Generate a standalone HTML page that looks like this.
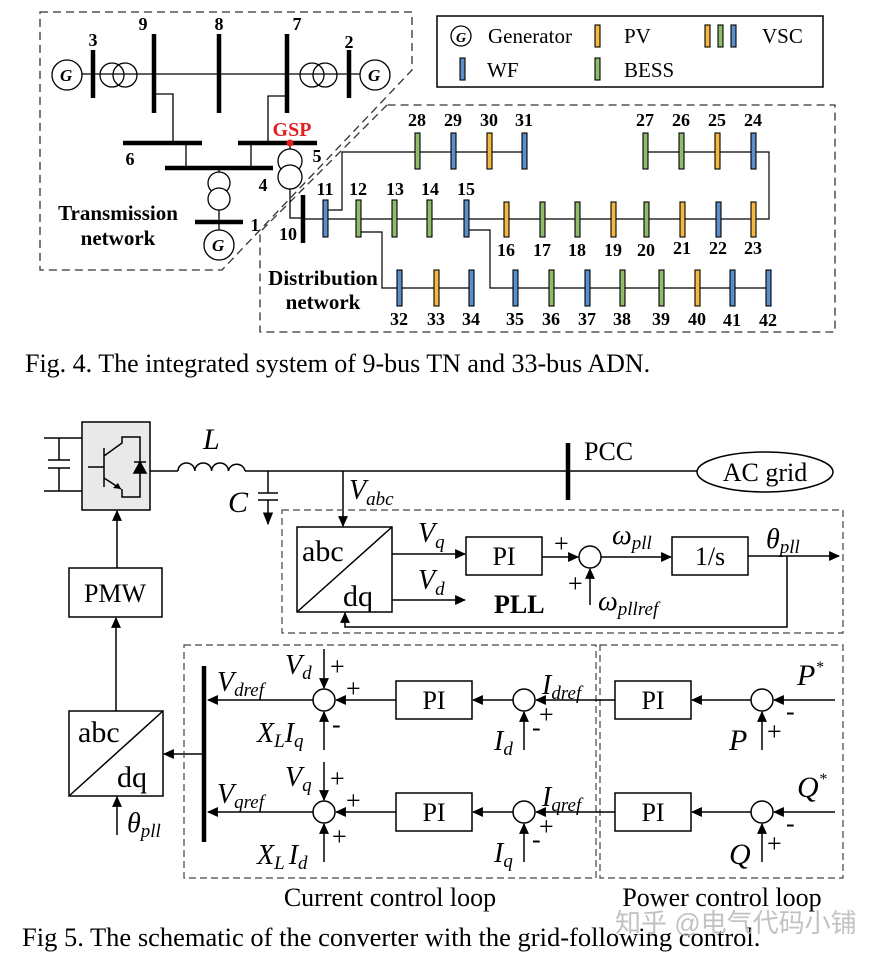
<!DOCTYPE html>
<html><head><meta charset="utf-8"><style>
html,body{margin:0;padding:0;background:#fff;}
svg{display:block;}
text{font-family:"Liberation Serif",serif;fill:#000;}
.b{font-weight:bold;}
.i{font-style:italic;}
</style></head><body>
<svg width="894" height="960" viewBox="0 0 894 960" xmlns="http://www.w3.org/2000/svg">
<defs>
<marker id="a" viewBox="0 0 10 10" refX="9" refY="5" markerWidth="11" markerHeight="11" orient="auto-start-reverse" markerUnits="userSpaceOnUse"><path d="M0,0.5L10,5L0,9.5z" fill="#000"/></marker>
<marker id="a2" viewBox="0 0 10 10" refX="9" refY="5" markerWidth="13" markerHeight="13" orient="auto" markerUnits="userSpaceOnUse"><path d="M0,1L10,5L0,9z" fill="#000"/></marker>
</defs>
<g fill="none" stroke="#000" stroke-width="1.3">
<path d="M40,12H412V70L222,270H40Z" stroke="#333" stroke-dasharray="8,5" stroke-width="1.3"/>
<path d="M387,105L260,232V332H835V105Z" stroke="#333" stroke-dasharray="8,5" stroke-width="1.3"/>
<rect x="437" y="16" width="386" height="71" stroke-width="1.5"/>
<circle cx="461" cy="36" r="10"/>
<path d="M82,74H360"/>
<circle cx="67" cy="75" r="15"/><circle cx="375" cy="75" r="15"/>
<circle cx="112" cy="75" r="12"/><circle cx="125" cy="75" r="12"/>
<circle cx="312" cy="75" r="12"/><circle cx="325" cy="75" r="12"/>
<path d="M154,94H173V143M287,96H268V143M186,143V168M251,143V168M219,168V222V230M290,143V218H303"/>
<circle cx="219" cy="183" r="11" fill="#fff"/><circle cx="219" cy="199" r="11" fill="#fff"/>
<circle cx="290" cy="161" r="12" fill="#fff"/><circle cx="290" cy="177" r="12" fill="#fff"/>
<circle cx="219" cy="245" r="15" fill="#fff"/>
</g>
<g stroke="#000" stroke-width="4.5">
<path d="M93,50V98M154,34V113M219,34V113M287,34V113M349,50V98M123,143H202M238,143H317M165,168H273M195,222H243M303,195V243"/>
</g>
<circle cx="290" cy="143" r="3.5" fill="#e02020"/>
<g class="b" font-size="18">
<text x="93" y="46" text-anchor="middle" class="b">3</text>
<text x="143" y="30" text-anchor="middle" class="b">9</text>
<text x="219" y="30" text-anchor="middle" class="b">8</text>
<text x="297" y="30" text-anchor="middle" class="b">7</text>
<text x="349" y="48" text-anchor="middle" class="b">2</text>
<text x="130" y="165" text-anchor="middle" class="b">6</text>
<text x="317" y="162" text-anchor="middle" class="b">5</text>
<text x="263" y="191" text-anchor="middle" class="b">4</text>
<text x="255" y="231" text-anchor="middle" class="b">1</text>
<text x="288" y="240" text-anchor="middle" class="b">10</text>
<text x="292" y="136" text-anchor="middle" class="b" style="fill:#e02020" font-size="20">GSP</text>
<text x="118" y="220" text-anchor="middle" class="b" font-size="21">Transmission</text>
<text x="118" y="245" text-anchor="middle" class="b" font-size="21">network</text>
<text x="323" y="285" text-anchor="middle" class="b" font-size="21">Distribution</text>
<text x="323" y="309" text-anchor="middle" class="b" font-size="21">network</text>
</g>
<g font-size="18"><text x="456" y="42" class="b i" font-size="14">G</text><text x="60" y="81" class="b i" font-size="17">G</text><text x="368" y="81" class="b i" font-size="17">G</text><text x="212" y="251" class="b i" font-size="17">G</text></g>
<g fill="none" stroke="#000" stroke-width="1.2">
<path d="M303,219H769V152H645M328,210H342V152H524M358,232H382V288H471M466,230H490V288H768"/>
</g>
<g stroke="#000" stroke-width="1.1">
<rect x="323" y="200" width="5" height="37" fill="#5b8fc9"/>
<rect x="356" y="200" width="5" height="37" fill="#8fbc6a"/>
<rect x="392" y="200" width="5" height="37" fill="#8fbc6a"/>
<rect x="427" y="200" width="5" height="37" fill="#8fbc6a"/>
<rect x="464" y="200" width="5" height="37" fill="#5b8fc9"/>
<rect x="504" y="202" width="5" height="35" fill="#f5b941"/>
<rect x="540" y="202" width="5" height="35" fill="#8fbc6a"/>
<rect x="575" y="202" width="5" height="35" fill="#8fbc6a"/>
<rect x="611" y="202" width="5" height="35" fill="#f5b941"/>
<rect x="644" y="202" width="5" height="35" fill="#8fbc6a"/>
<rect x="680" y="202" width="5" height="35" fill="#f5b941"/>
<rect x="716" y="202" width="5" height="35" fill="#5b8fc9"/>
<rect x="751" y="202" width="5" height="35" fill="#f5b941"/>
<rect x="415" y="133" width="5" height="36" fill="#8fbc6a"/>
<rect x="451" y="133" width="5" height="36" fill="#5b8fc9"/>
<rect x="487" y="133" width="5" height="36" fill="#f5b941"/>
<rect x="522" y="133" width="5" height="36" fill="#5b8fc9"/>
<rect x="643" y="133" width="5" height="36" fill="#8fbc6a"/>
<rect x="679" y="133" width="5" height="36" fill="#8fbc6a"/>
<rect x="715" y="133" width="5" height="36" fill="#f5b941"/>
<rect x="751" y="133" width="5" height="36" fill="#5b8fc9"/>
<rect x="397" y="270" width="5" height="36" fill="#5b8fc9"/>
<rect x="434" y="270" width="5" height="36" fill="#f5b941"/>
<rect x="469" y="270" width="5" height="36" fill="#5b8fc9"/>
<rect x="513" y="270" width="5" height="36" fill="#5b8fc9"/>
<rect x="549" y="270" width="5" height="36" fill="#8fbc6a"/>
<rect x="585" y="270" width="5" height="36" fill="#5b8fc9"/>
<rect x="620" y="270" width="5" height="36" fill="#8fbc6a"/>
<rect x="659" y="270" width="5" height="36" fill="#8fbc6a"/>
<rect x="695" y="270" width="5" height="36" fill="#f5b941"/>
<rect x="730" y="270" width="5" height="36" fill="#5b8fc9"/>
<rect x="766" y="270" width="5" height="36" fill="#5b8fc9"/>
<rect x="595" y="25" width="5" height="22" fill="#f5b941"/>
<rect x="705" y="25" width="5" height="22" fill="#f5b941"/>
<rect x="718" y="25" width="5" height="22" fill="#8fbc6a"/>
<rect x="731" y="25" width="5" height="22" fill="#5b8fc9"/>
<rect x="460" y="58" width="5" height="22" fill="#5b8fc9"/>
<rect x="595" y="58" width="5" height="22" fill="#8fbc6a"/>
</g>
<g font-size="21">
<text x="488" y="43">Generator</text><text x="624" y="43">PV</text><text x="762" y="43">VSC</text>
<text x="487" y="77">WF</text><text x="624" y="77">BESS</text>
</g>
<g class="b" font-size="18" text-anchor="middle">
<text x="325" y="195">11</text><text x="358" y="195">12</text><text x="395" y="195">13</text><text x="430" y="195">14</text><text x="466" y="195">15</text>
<text x="506" y="256">16</text><text x="542" y="256">17</text><text x="577" y="256">18</text><text x="613" y="256">19</text><text x="646" y="256">20</text><text x="682" y="254">21</text><text x="718" y="254">22</text><text x="753" y="254">23</text>
<text x="417" y="126">28</text><text x="453" y="126">29</text><text x="489" y="126">30</text><text x="524" y="126">31</text><text x="645" y="126">27</text><text x="681" y="126">26</text><text x="717" y="126">25</text><text x="753" y="126">24</text>
<text x="399" y="325">32</text><text x="436" y="325">33</text><text x="471" y="325">34</text><text x="515" y="325">35</text><text x="551" y="325">36</text><text x="587" y="325">37</text><text x="622" y="325">38</text><text x="661" y="325">39</text><text x="697" y="325">40</text><text x="732" y="326">41</text><text x="768" y="326">42</text>
</g>
<text x="25" y="372" font-size="26">Fig. 4. The integrated system of 9-bus TN and 33-bus ADN.</text>

<g fill="none" stroke="#000" stroke-width="1.5">
<path d="M44,438H82M44,491H82M59,438V460M59,468V491M48,460H70M48,468H70"/>
<rect x="82" y="422" width="68" height="88" fill="#e9e9e9"/>
<path d="M104,448V487M88,467H104M104,456L122,443V437H140V497H122V489M104,478L121,489"/>
<path d="M150,471H178M245,471H568M568,471H697"/>
<path d="M178,471a8.4,8 0 0 1 16.8,0a8.4,8 0 0 1 16.8,0a8.4,8 0 0 1 16.8,0a8.4,8 0 0 1 16.6,0"/>
<path d="M268,471V493M258,493H278M258,500H278M268,500V524" marker-end="url(#a2)"/>
<path d="M343,471V526" marker-end="url(#a)"/>
<ellipse cx="765" cy="472" rx="68" ry="20"/>
<path d="M282,510H843V633H282Z" stroke="#444" stroke-dasharray="7,4" stroke-width="1.2"/>
<rect x="297" y="527" width="95" height="85"/>
<path d="M297,612L392,527"/>
<path d="M392,554H465" marker-end="url(#a)"/>
<rect x="466" y="537" width="76" height="38"/>
<path d="M542,557H578" marker-end="url(#a)"/>
<circle cx="590" cy="557" r="11"/>
<path d="M601,557H671" marker-end="url(#a)"/>
<rect x="672" y="537" width="76" height="38"/>
<path d="M748,556H839" marker-end="url(#a)"/>
<path d="M590,605V569" marker-end="url(#a)"/>
<path d="M392,600H465" marker-end="url(#a)"/>
<path d="M787,556V627H345V613" marker-end="url(#a)"/>
<path d="M117,568V511" marker-end="url(#a)"/>
<rect x="69" y="568" width="93" height="49"/>
<path d="M116,711V618" marker-end="url(#a)"/>
<rect x="69" y="711" width="94" height="85"/>
<path d="M69,796L163,711"/>
<path d="M205,754H164" marker-end="url(#a)"/>
<path d="M117,835V797" marker-end="url(#a)"/>
<path d="M184,645H596V878H184Z" stroke="#444" stroke-dasharray="7,4" stroke-width="1.2"/>
<path d="M600,645H843V878H600Z" stroke="#444" stroke-dasharray="7,4" stroke-width="1.2"/>
<path d="M313,700H208" marker-end="url(#a)"/>
<circle cx="324" cy="700" r="11"/>
<path d="M396,700H336" marker-end="url(#a)"/>
<rect x="396" y="681" width="76" height="38"/>
<path d="M513,700H473" marker-end="url(#a)"/>
<circle cx="524" cy="700" r="11"/>
<path d="M615,700H536" marker-end="url(#a)"/>
<rect x="615" y="681" width="76" height="38"/>
<path d="M751,700H692" marker-end="url(#a)"/>
<circle cx="762" cy="700" r="11"/>
<path d="M835,700H774" marker-end="url(#a)"/>
<path d="M324,649V688" marker-end="url(#a)"/>
<path d="M324,750V712" marker-end="url(#a)"/>
<path d="M524,750V712" marker-end="url(#a)"/>
<path d="M762,750V712" marker-end="url(#a)"/>
<path d="M313,812H208" marker-end="url(#a)"/>
<circle cx="324" cy="812" r="11"/>
<path d="M396,812H336" marker-end="url(#a)"/>
<rect x="396" y="793" width="76" height="38"/>
<path d="M513,812H473" marker-end="url(#a)"/>
<circle cx="524" cy="812" r="11"/>
<path d="M615,812H536" marker-end="url(#a)"/>
<rect x="615" y="793" width="76" height="38"/>
<path d="M751,812H692" marker-end="url(#a)"/>
<circle cx="762" cy="812" r="11"/>
<path d="M835,812H774" marker-end="url(#a)"/>
<path d="M324,762V800" marker-end="url(#a)"/>
<path d="M324,862V824" marker-end="url(#a)"/>
<path d="M524,862V824" marker-end="url(#a)"/>
<path d="M762,862V824" marker-end="url(#a)"/>
</g>
<path d="M140,462L134,473H146Z M134,462H146" fill="#000" stroke="#000" stroke-width="1.5"/>
<path d="M121,489L113,488L118,483Z" fill="#000"/>
<g stroke="#000" stroke-width="4.5"><path d="M568,443V500M204,666V842"/></g>
<g font-size="26">
<text x="203" y="449" class="i" font-size="30">L</text>
<text x="228" y="512" class="i" font-size="30">C</text>
<text x="349" y="499" class="i" font-size="28">V<tspan font-size="19" dy="6">abc</tspan></text>
<text x="584" y="460">PCC</text>
<text x="765" y="481" text-anchor="middle">AC grid</text>
<text x="302" y="561" font-size="30">abc</text>
<text x="343" y="606" font-size="30">dq</text>
<text x="418" y="542" class="i" font-size="28">V<tspan font-size="19" dy="6">q</tspan></text>
<text x="418" y="589" class="i" font-size="28">V<tspan font-size="19" dy="6">d</tspan></text>
<text x="504" y="565" text-anchor="middle">PI</text>
<text x="710" y="565" text-anchor="middle">1/s</text>
<text x="494" y="613" class="b">PLL</text>
<text x="554" y="552">+</text>
<text x="568" y="592">+</text>
<text x="612" y="544" class="i" font-size="28">ω<tspan font-size="19" dy="5">pll</tspan></text>
<text x="598" y="610" class="i" font-size="28">ω<tspan font-size="19" dy="5">pllref</tspan></text>
<text x="766" y="548" class="i" font-size="28">θ<tspan font-size="19" dy="5">pll</tspan></text>
<text x="115" y="602" text-anchor="middle">PMW</text>
<text x="78" y="742" font-size="30">abc</text>
<text x="117" y="787" font-size="30">dq</text>
<text x="127" y="832" class="i" font-size="28">θ<tspan font-size="19" dy="5">pll</tspan></text>
<text x="217" y="691" class="i" font-size="28">V<tspan font-size="19" dy="5">dref</tspan></text>
<text x="285" y="674" class="i" font-size="28">V<tspan font-size="19" dy="5">d</tspan></text>
<text x="330" y="675">+</text>
<text x="346" y="697">+</text>
<text x="257" y="742" class="i" font-size="28">X<tspan font-size="19" dy="5">L</tspan><tspan dy="-5">I</tspan><tspan font-size="19" dy="5">q</tspan></text>
<text x="332" y="733">-</text>
<text x="434" y="709" text-anchor="middle">PI</text>
<text x="542" y="694" class="i" font-size="28">I<tspan font-size="19" dy="5">dref</tspan></text>
<text x="539" y="723">+</text>
<text x="494" y="750" class="i" font-size="28">I<tspan font-size="19" dy="5">d</tspan></text>
<text x="532" y="736">-</text>
<text x="653" y="709" text-anchor="middle">PI</text>
<text x="797" y="685" class="i" font-size="30">P<tspan font-size="16" dy="-13">*</tspan></text>
<text x="786" y="720">-</text>
<text x="729" y="750" class="i" font-size="30">P</text>
<text x="767" y="740">+</text>
<text x="217" y="803" class="i" font-size="28">V<tspan font-size="19" dy="5">qref</tspan></text>
<text x="285" y="786" class="i" font-size="28">V<tspan font-size="19" dy="5">q</tspan></text>
<text x="330" y="787">+</text>
<text x="346" y="809">+</text>
<text x="257" y="864" class="i" font-size="28">X<tspan font-size="19" dy="5">L</tspan><tspan dx="4" dy="-5">I</tspan><tspan font-size="19" dy="5">d</tspan></text>
<text x="332" y="845">+</text>
<text x="434" y="821" text-anchor="middle">PI</text>
<text x="542" y="806" class="i" font-size="28">I<tspan font-size="19" dy="5">qref</tspan></text>
<text x="539" y="835">+</text>
<text x="494" y="862" class="i" font-size="28">I<tspan font-size="19" dy="5">q</tspan></text>
<text x="532" y="848">-</text>
<text x="653" y="821" text-anchor="middle">PI</text>
<text x="797" y="797" class="i" font-size="30">Q<tspan font-size="16" dy="-13">*</tspan></text>
<text x="786" y="832">-</text>
<text x="729" y="864" class="i" font-size="30">Q</text>
<text x="767" y="852">+</text>
<text x="390" y="906" text-anchor="middle">Current control loop</text>
<text x="722" y="906" text-anchor="middle">Power control loop</text>
<text x="22" y="946" font-size="26.5">Fig 5. The schematic of the converter with the grid-following control.</text>
</g>
<text x="615" y="932" font-size="26" style="fill:#b8b8b8;font-family:'Liberation Sans','Noto Sans CJK SC',sans-serif" opacity="0.85">知乎 @电气代码小铺</text>
</svg>
</body></html>
